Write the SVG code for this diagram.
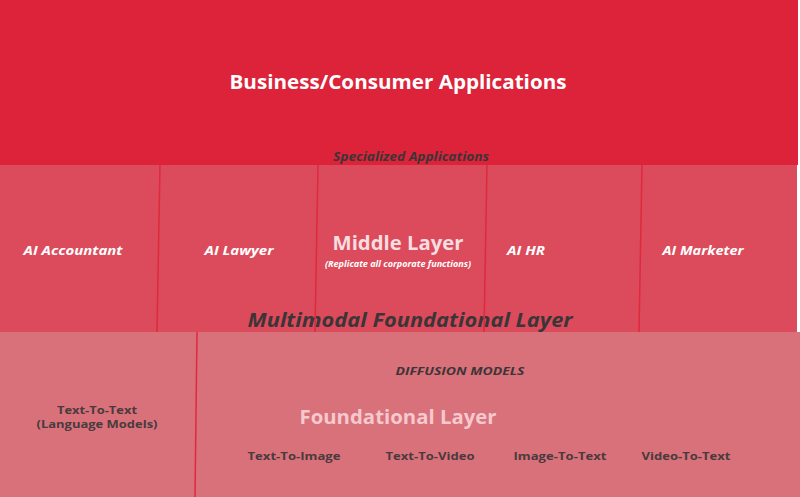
<svg xmlns="http://www.w3.org/2000/svg" width="800" height="497" viewBox="0 0 800 497">
<style>
  text { font-family: "Open Sans", "Liberation Sans", sans-serif; font-weight: 700; text-anchor: middle; }
  .w { fill: #ffffff; }
  .app { font-size: 13px; font-style: italic; fill: #ffffff; }
  .dark { fill: #3c3538; }
  .item { font-size: 11px; fill: #4a3a3d; }
  .div { stroke: #e0283e; stroke-width: 1.5; fill: none; }
</style>
<rect x="0" y="0" width="800" height="497" fill="#ffffff"/>
<g id="top-layer">
  <rect x="0" y="0" width="798" height="165" fill="#dc233a"/>
  <text class="w" x="398" y="89" font-size="20" textLength="337" lengthAdjust="spacingAndGlyphs">Business/Consumer Applications</text>
  <text class="dark" x="411" y="161" font-size="12" font-style="italic" textLength="156" lengthAdjust="spacingAndGlyphs">Specialized Applications</text>
</g>
<g id="middle-layer">
  <rect x="0" y="165" width="797" height="167" fill="#dc4b5b"/>
  <text x="398" y="250" font-size="19" fill="#f7dde0" textLength="131" lengthAdjust="spacingAndGlyphs">Middle Layer</text>
  <text class="w" x="398" y="267" font-size="8" font-style="italic" textLength="146" lengthAdjust="spacingAndGlyphs">(Replicate all corporate functions)</text>
  <text class="dark" x="410" y="327" font-size="19" font-style="italic" textLength="325" lengthAdjust="spacingAndGlyphs">Multimodal Foundational Layer</text>
</g>
<g id="ai-accountant"><text class="app" x="73" y="255" textLength="99" lengthAdjust="spacingAndGlyphs">AI Accountant</text></g>
<g id="ai-lawyer"><text class="app" x="239" y="255" textLength="69" lengthAdjust="spacingAndGlyphs">AI Lawyer</text></g>
<g id="ai-hr"><text class="app" x="526" y="255" textLength="38" lengthAdjust="spacingAndGlyphs">AI HR</text></g>
<g id="ai-marketer"><text class="app" x="703" y="255" textLength="81" lengthAdjust="spacingAndGlyphs">AI Marketer</text></g>
<g id="foundational-layer">
  <rect x="0" y="332" width="800" height="165" fill="#d9717a"/>
  <text class="dark" x="460" y="375" font-size="11" font-style="italic" font-weight="600" textLength="129" lengthAdjust="spacingAndGlyphs">DIFFUSION MODELS</text>
  <text x="398" y="424" font-size="19" fill="#f5c9cd" textLength="197" lengthAdjust="spacingAndGlyphs">Foundational Layer</text>
</g>
<g id="text-to-text">
  <text class="item" x="97" y="414" textLength="80" lengthAdjust="spacingAndGlyphs">Text-To-Text</text>
  <text class="item" x="97" y="428" textLength="121" lengthAdjust="spacingAndGlyphs">(Language Models)</text>
</g>
<g id="text-to-image"><text class="item" x="294" y="460" textLength="93" lengthAdjust="spacingAndGlyphs">Text-To-Image</text></g>
<g id="text-to-video"><text class="item" x="430" y="460" textLength="89" lengthAdjust="spacingAndGlyphs">Text-To-Video</text></g>
<g id="image-to-text"><text class="item" x="560" y="460" textLength="93" lengthAdjust="spacingAndGlyphs">Image-To-Text</text></g>
<g id="video-to-text"><text class="item" x="686" y="460" textLength="89" lengthAdjust="spacingAndGlyphs">Video-To-Text</text></g>
<g id="connectors">
  <line class="div" x1="160" y1="165" x2="157" y2="332"/>
  <line class="div" x1="318" y1="165" x2="315" y2="332"/>
  <line class="div" x1="487" y1="165" x2="484" y2="332"/>
  <line class="div" x1="642" y1="165" x2="639" y2="332"/>
  <line class="div" x1="197" y1="332" x2="195" y2="497"/>
</g>
</svg>
